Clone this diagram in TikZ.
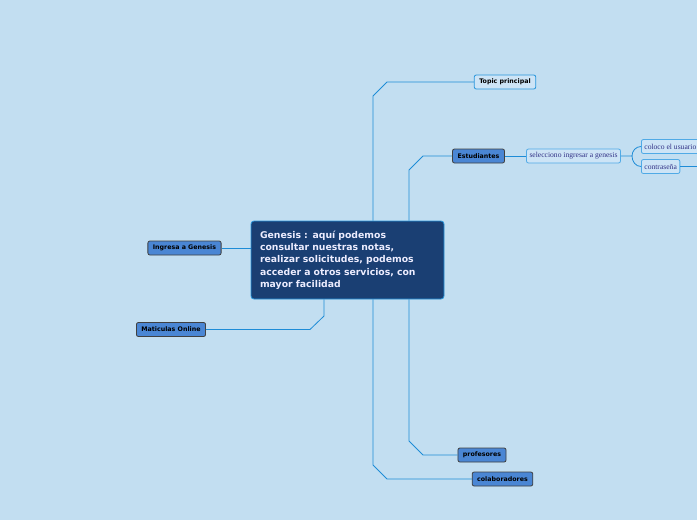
\documentclass[tikz,border=0pt]{standalone}
\usepackage{fontspec}
\setmainfont{DejaVu Sans}
\newfontfamily\subfont{Liberation Serif}
\definecolor{bgBlue}{RGB}{194,222,241}
\definecolor{mainFill}{RGB}{26,63,115}
\definecolor{mainLine}{RGB}{40,150,220}
\definecolor{topicFill}{RGB}{74,134,212}
\definecolor{subFill}{RGB}{205,228,246}
\definecolor{subLine}{RGB}{80,170,230}
\definecolor{linkBlue}{RGB}{30,140,215}
\begin{document}
\begin{tikzpicture}[
        x=1pt, y=-1pt,
        topic/.style={rectangle, draw=black!75, fill=topicFill, thick, minimum height=14pt, inner xsep=5pt, font=\fontsize{6.3}{7}\selectfont\bfseries, rounded corners=2pt},
        mainbox/.style={rectangle, draw=mainLine, fill=mainFill, thick, minimum width=193pt, minimum height=78pt, text width=175pt, font=\fontsize{9.3}{12.3}\selectfont\bfseries, text=white!93!blue, rounded corners=3pt, align=left},
        subtopic/.style={rectangle, draw=subLine, fill=subFill, thick, minimum height=14pt, inner xsep=3pt, font=\subfont\fontsize{7.6}{8}\selectfont, text=black!45!blue!60!gray, rounded corners=2pt},
        link/.style={draw=linkBlue, thick}
    ]
        \useasboundingbox (0,0) rectangle (697,520);
        \fill[bgBlue] (0,0) rectangle (697,520);

        % ========== NODES ==========
        \node[mainbox] (genesis) at (347.5,260) {Genesis : aquí podemos\\consultar nuestras notas,\\realizar solicitudes, podemos\\acceder a otros servicios, con\\mayor facilidad};
        \node[topic, fill=subFill, draw=mainLine] (topic) at (505,82) {Topic principal};
        \node[topic] (estudiantes) at (478.5,156) {Estudiantes};
        \node[topic] (profesores) at (482,455) {profesores};
        \node[topic] (colaboradores) at (502.5,479) {colaboradores};
        \node[topic] (ingresa) at (184.5,248) {Ingresa a Genesis};
        \node[topic] (maticulas) at (171,329.5) {Maticulas Online};

        \node[subtopic] (selecciono) at (573.5,156) {selecciono ingresar a genesis};
        \node[subtopic, anchor=west] (usuario) at (641,146.5) {coloco el usuario};
        \node[subtopic, anchor=west] (clave) at (641,166.5) {contraseña};
        \coordinate (edge) at (697,166.5);

        % ========== CONNECTORS ==========
        \draw[link] (genesis.north -| 373,0) -- (373,96) -- (387,82) -- (topic.west);
        \draw[link] (genesis.north -| 409,0) -- (409,170) -- (423,156) -- (estudiantes.west);
        \draw[link] (genesis.south -| 409,0) -- (409,441) -- (423,455) -- (profesores.west);
        \draw[link] (genesis.south -| 373,0) -- (373,465) -- (387,479) -- (colaboradores.west);
        \draw[link] (ingresa.east) -- (genesis.west |- ingresa.east);
        \draw[link] (genesis.south -| 324,0) -- (324,316) -- (310,329.5) -- (maticulas.east);
        \draw[link] (estudiantes.east) -- (selecciono.west);
        \draw[link] (selecciono.east) -- (632,156) to[out=90,in=180] (usuario.west);
        \draw[link] (632,156) to[out=-90,in=180] (clave.west);
        \draw[link] (clave.east) -- (edge);
    \end{tikzpicture}
\end{document}
